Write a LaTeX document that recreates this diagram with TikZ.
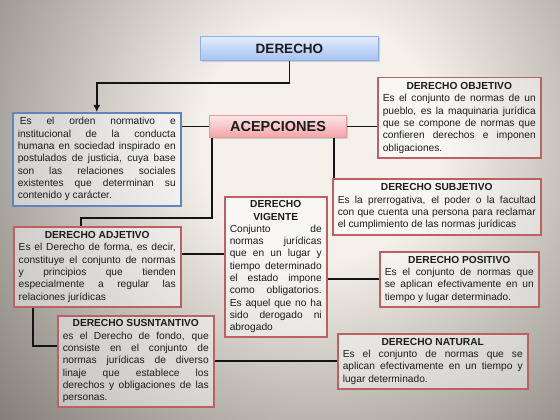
\documentclass[tikz,border=0pt]{standalone}
\usepackage{fontspec}
\setmainfont{Liberation Sans}
\usetikzlibrary{calc,shadows,arrows.meta}
\definecolor{bgin}{HTML}{F3F1EA}
\definecolor{bgout}{HTML}{807E77}
\definecolor{boxred}{HTML}{BE5F63}
\definecolor{blueedge}{HTML}{5E86BC}
\definecolor{txt}{HTML}{1C1C1C}
\definecolor{derTop}{HTML}{E2ECFC}
\definecolor{derBot}{HTML}{A6C2F2}
\definecolor{derEdge}{HTML}{8FB0E6}
\definecolor{acTop}{HTML}{FDE6E6}
\definecolor{acBot}{HTML}{F2A3A7}
\definecolor{acEdge}{HTML}{E59A9E}
\pgfdeclareradialshading{bgshade}{\pgfpoint{0bp}{0bp}}{color(0bp)=(bgin); color(7bp)=(bgin); color(25bp)=(bgout); color(50bp)=(bgout)}
\newcommand\jl[1]{\makebox[\linewidth][s]{#1}\par}
\newcommand\hd[1]{\makebox[\linewidth][c]{\bfseries #1}\par}
\tikzset{
  txtbox/.style={draw=boxred, line width=1.5pt, fill=white, fill opacity=0.45, text opacity=1,
    anchor=north west, inner xsep=5pt, inner ysep=1pt, align=justify, text=txt,
    font=\fontsize{10.2}{12.3}\selectfont},
  titlebox/.style={anchor=north west, line width=1pt, inner sep=0pt, text=txt,
    drop shadow={shadow xshift=1.5pt, shadow yshift=-1.5pt, opacity=0.3}},
  conn/.style={line width=1.7pt, draw=black!92},
}
\begin{document}
\begin{tikzpicture}[x=1pt,y=-1pt]
\useasboundingbox (0,0) rectangle (560,420);
\begin{scope}
\clip (0,0) rectangle (560,420);
\shade[shading=bgshade] (320,140) circle[radius=430pt];
\end{scope}

% titles
\node[titlebox, draw=derEdge, top color=derTop, bottom color=derBot,
  minimum width=178pt, minimum height=24pt,
  font=\bfseries\fontsize{13.5}{14}\selectfont] (der) at (200,36) {DERECHO};
\node[titlebox, draw=acEdge, top color=acTop, bottom color=acBot,
  minimum width=137pt, minimum height=22pt,
  font=\bfseries\fontsize{14.5}{15}\selectfont] (acep) at (209,115) {ACEPCIONES};

% boxes
\node[txtbox, draw=blueedge, minimum width=168pt, minimum height=93pt, text width=158pt] (def) at (12,112) {%
\makebox[\linewidth][s]{\hspace*{2pt}Es el orden normativo e}\par
\jl{institucional de la conducta}
\jl{humana en sociedad inspirado en}
\jl{postulados de justicia, cuya base}
\jl{son las relaciones sociales}
\jl{existentes que determinan su}
contenido y carácter.};

\node[txtbox, minimum width=163pt, minimum height=80pt, text width=153pt] (obj) at (377,77) {%
\hd{DERECHO OBJETIVO}
\jl{Es el conjunto de normas de un}
\jl{pueblo, es la maquinaria jurídica}
\jl{que se compone de normas que}
\jl{confieren derechos e imponen}
obligaciones.};

\node[txtbox, minimum width=208pt, minimum height=56pt, text width=198pt] (subj) at (332,178) {%
\hd{DERECHO SUBJETIVO}
\jl{Es la prerrogativa, el poder o la facultad}
\jl{con que cuenta una persona para reclamar}
el cumplimiento de las normas jurídicas};

\node[txtbox, minimum width=102pt, minimum height=140pt, text width=92pt] (vig) at (224,196) {%
\hd{DERECHO}
\hd{VIGENTE}
\jl{Conjunto de}
\jl{normas jurídicas}
\jl{que en un lugar y}
\jl{tiempo determinado}
\jl{el estado impone}
\jl{como obligatorios.}
\jl{Es aquel que no ha}
\jl{sido derogado ni}
abrogado};

\node[txtbox, minimum width=167pt, minimum height=80pt, text width=157pt] (adj) at (13,226) {%
\hd{DERECHO ADJETIVO}
\jl{Es el Derecho de forma, es decir,}
\jl{constituye el conjunto de normas}
\jl{y principios que tienden}
\jl{especialmente a regular las}
relaciones jurídicas};

\node[txtbox, minimum width=156pt, minimum height=91pt, text width=146pt] (sus) at (57,315) {%
\hd{DERECHO SUSNTANTIVO}
\jl{es el Derecho de fondo, que}
\jl{consiste en el conjunto de}
\jl{normas jurídicas de diverso}
\jl{linaje que establece los}
\jl{derechos y obligaciones de las}
personas.};

\node[txtbox, minimum width=159pt, minimum height=55pt, text width=149pt] (pos) at (379,251) {%
\hd{DERECHO POSITIVO}
\jl{Es el conjunto de normas que}
\jl{se aplican efectivamente en un}
tiempo y lugar determinado.};

\node[txtbox, minimum width=190pt, minimum height=55pt, text width=180pt] (nat) at (337,333) {%
\hd{DERECHO NATURAL}
\jl{Es el conjunto de normas que se}
\jl{aplican efectivamente en un tiempo y}
lugar determinado.};

% connectors
\coordinate (d1) at ($(der.south)+(0,22)$);
\draw[conn, -{Latex[length=7pt,width=7pt]}] (der.south) -- (d1) -| (def.north);
\draw[conn] (acep.west) -- (acep.west -| def.east);
\draw[conn] (acep.east) -- (acep.east -| obj.west);
\coordinate (s1) at ($(subj.north west)+(2,0)$);
\draw[conn] (s1 |- acep.south) -- (s1);
\coordinate (a1) at ($(acep.south west)+(3,0)$);
\coordinate (a2) at ($(adj.north west)+(68,-8)$);
\draw[conn] (a1) |- (a2) -- (a2 |- adj.north);
\coordinate (p1) at ($(adj.east)+(0,-13)$);
\draw[conn] (p1) -- (p1 -| vig.west);
\draw[conn] (vig.east |- pos.west) -- (pos.west);
\coordinate (q1) at ($(sus.west)+(0,-15)$);
\coordinate (q0) at ($(adj.south west)+(20,0)$);
\draw[conn] (q0) |- (q1);
\draw[conn] (sus.east |- nat.west) -- (nat.west);
\end{tikzpicture}
\end{document}
